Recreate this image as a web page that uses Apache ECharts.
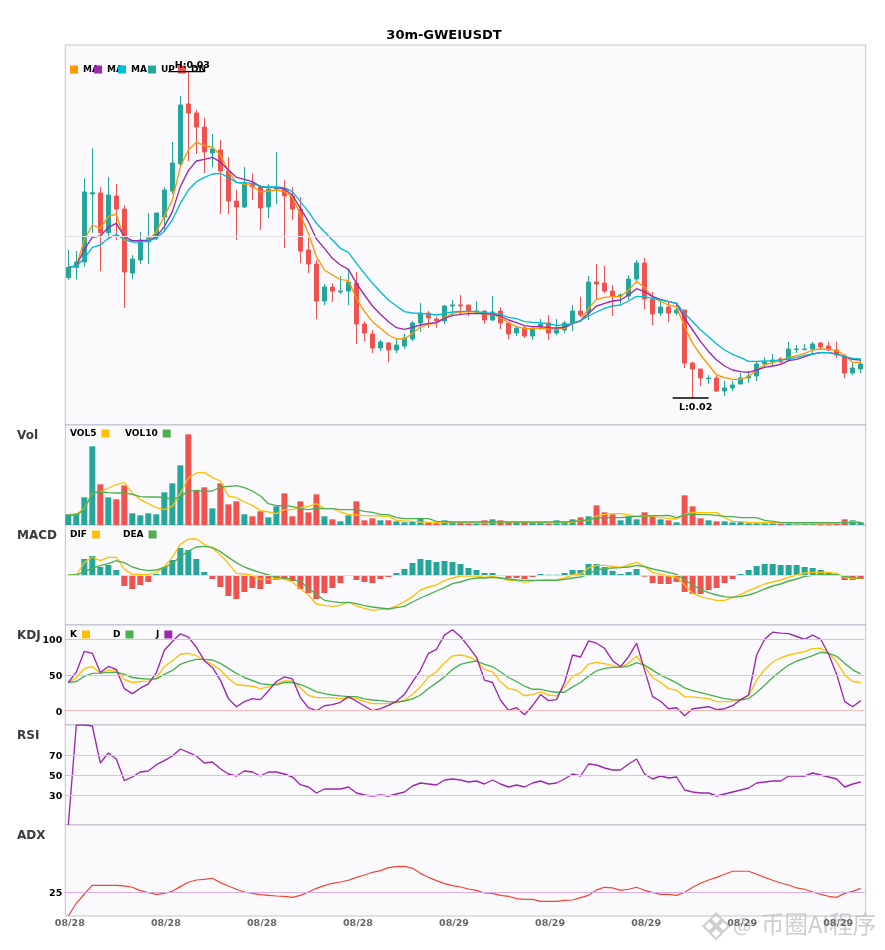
<!DOCTYPE html>
<html><head><meta charset="utf-8">
<style>html,body{margin:0;padding:0;background:#fff}#c{width:885px;height:950px}</style>
<script src="https://cdn.jsdelivr.net/npm/echarts@6/dist/echarts.min.js"></script>
</head><body><div id="c"></div>
<script>
// prices are in units of 0.00001 USDT
const opens=[2377,2408,2424,2628,2631,2512,2622,2583,2391,2430,2484,2496,2559,2637,2718,2898,2871,2829,2751,2760,2697,2607,2589,2659,2649,2589,2643,2643,2622,2583,2460,2418,2307,2349,2334,2337,2361,2238,2208,2166,2181,2160,2172,2193,2241,2271,2253,2247,2292,2295,2295,2274,2277,2250,2277,2241,2211,2226,2202,2229,2241,2211,2220,2241,2277,2271,2364,2361,2337,2322,2322,2373,2421,2313,2271,2289,2271,2280,2121,2103,2074,2076,2037,2046,2058,2076,2082,2118,2124,2133,2130,2161,2161,2163,2181,2172,2160,2142,2091,2103];
const closes=[2408,2424,2634,2632,2512,2625,2583,2394,2433,2490,2496,2571,2640,2721,2895,2871,2829,2754,2763,2697,2607,2589,2659,2649,2586,2643,2646,2622,2583,2457,2418,2307,2349,2337,2337,2364,2238,2211,2166,2184,2160,2175,2196,2241,2271,2256,2247,2292,2295,2292,2277,2277,2250,2274,2241,2208,2226,2202,2223,2238,2211,2220,2241,2277,2265,2364,2358,2337,2322,2325,2373,2421,2313,2268,2289,2271,2280,2121,2103,2076,2076,2037,2046,2055,2076,2082,2118,2124,2130,2124,2163,2163,2163,2178,2169,2160,2145,2091,2106,2118];
const lows=[2370,2372,2410,2512,2397,2495,2490,2286,2373,2418,2418,2490,2515,2628,2712,2727,2748,2691,2709,2568,2568,2490,2586,2610,2520,2556,2598,2466,2550,2421,2391,2253,2295,2304,2328,2295,2178,2187,2151,2157,2124,2151,2163,2187,2214,2226,2226,2238,2262,2265,2262,2268,2238,2247,2223,2193,2202,2196,2190,2220,2190,2205,2211,2217,2259,2250,2310,2330,2262,2295,2310,2367,2283,2235,2262,2244,2265,2106,2016,2052,2058,2034,2022,2037,2058,2061,2067,2109,2112,2120,2127,2151,2160,2145,2160,2157,2136,2076,2085,2091];
const highs=[2460,2457,2675,2765,2649,2679,2658,2595,2445,2514,2571,2571,2649,2784,2922,2995,2880,2856,2808,2790,2739,2640,2709,2690,2655,2658,2754,2670,2649,2619,2496,2430,2358,2361,2382,2400,2394,2247,2220,2190,2184,2196,2208,2247,2301,2277,2259,2295,2310,2325,2295,2307,2277,2322,2289,2241,2232,2232,2229,2253,2265,2253,2247,2295,2319,2382,2418,2412,2355,2330,2385,2430,2436,2334,2304,2304,2298,2280,2124,2103,2085,2082,2067,2067,2091,2097,2127,2139,2148,2139,2184,2175,2178,2184,2184,2184,2184,2148,2124,2133];
const ma5=[2408,2412,2490,2535,2525,2560,2568,2490,2487,2488,2490,2515,2560,2610,2710,2760,2783,2774,2768,2745,2695,2663,2657,2653,2634,2637,2640,2635,2620,2565,2510,2440,2400,2385,2372,2368,2315,2275,2245,2225,2205,2193,2193,2210,2228,2238,2240,2258,2270,2274,2275,2274,2268,2266,2258,2242,2230,2224,2224,2226,2223,2223,2225,2240,2248,2285,2312,2318,2320,2320,2340,2366,2347,2320,2305,2295,2290,2230,2180,2145,2115,2085,2077,2072,2072,2080,2100,2115,2122,2128,2137,2143,2150,2160,2163,2162,2158,2145,2123,2123];
const ma10=[2408,2412,2462,2498,2502,2528,2540,2500,2488,2488,2488,2500,2530,2575,2650,2698,2727,2732,2738,2724,2700,2678,2672,2665,2650,2648,2647,2643,2625,2585,2545,2493,2465,2435,2415,2402,2360,2325,2292,2267,2245,2227,2222,2228,2235,2240,2242,2255,2263,2267,2269,2269,2269,2268,2262,2250,2242,2233,2230,2230,2227,2226,2228,2240,2247,2270,2292,2300,2307,2310,2325,2344,2335,2320,2312,2305,2300,2255,2220,2185,2155,2130,2112,2100,2095,2093,2100,2108,2112,2117,2128,2132,2140,2148,2152,2152,2148,2140,2132,2130];
const ma20=[2408,2412,2435,2468,2475,2495,2507,2492,2484,2484,2487,2495,2517,2550,2600,2640,2665,2678,2688,2690,2678,2663,2662,2660,2650,2649,2649,2647,2635,2605,2575,2540,2515,2490,2465,2453,2420,2390,2360,2335,2310,2292,2275,2271,2270,2268,2265,2270,2274,2276,2276,2275,2272,2270,2267,2258,2254,2245,2243,2242,2238,2234,2235,2240,2248,2262,2274,2285,2292,2295,2307,2321,2320,2315,2310,2305,2300,2270,2245,2220,2200,2178,2160,2147,2137,2126,2126,2127,2128,2130,2133,2138,2144,2148,2152,2152,2147,2140,2135,2133];
const volume=[32,35,83,236,122,83,77,119,35,29,35,32,98,125,179,272,104,113,50,125,62,71,32,26,41,23,56,95,26,71,38,92,26,17,11,29,71,14,20,14,14,11,8,9,18,8,5,14,10,8,5,5,14,17,14,8,10,8,8,8,5,14,10,17,23,26,59,38,32,14,26,17,38,26,17,14,8,89,56,20,14,11,11,8,9,5,5,5,5,4,8,2,4,4,3,3,3,17,14,8];
const vol5=[32,32,49,97,99,111,121,127,96,76,64,52,46,56,94,141,156,158,142,132,87,82,69,59,44,39,34,46,46,52,56,64,49,49,39,32,30,28,28,27,26,14,12,11,9,8,8,7,7,7,6,6,6,7,8,8,8,8,7,7,6,6,7,9,13,14,27,32,34,34,30,26,27,26,22,20,18,32,38,37,37,37,22,11,10,8,7,7,7,6,5,4,4,4,4,4,5,8,9,9];
const vol10=[30,30,46,97,99,97,96,96,92,85,84,84,83,76,86,101,104,101,102,114,116,118,112,102,87,64,58,58,55,50,46,50,49,49,46,46,46,41,38,32,31,22,19,19,19,19,11,10,9,9,9,9,9,9,9,9,9,9,9,9,9,9,9,11,12,16,21,22,22,22,24,26,27,28,28,29,22,30,32,32,31,29,26,25,22,22,22,14,11,8,7,7,7,7,7,7,7,7,7,7];
const macdHist=[0,2,48,57,24,30,15,-33,-42,-30,-21,3,24,45,81,75,48,9,-12,-36,-63,-72,-51,-39,-42,-27,-15,-12,-18,-42,-54,-72,-54,-39,-24,-3,-15,-21,-24,-12,-6,6,18,36,48,45,39,42,39,33,21,15,6,6,-1,-9,-9,-12,-6,3,1,1,6,15,15,33,33,24,12,3,9,18,-5,-24,-27,-27,-21,-51,-57,-57,-45,-39,-24,-12,3,15,27,33,33,30,30,30,24,21,15,6,3,-15,-15,-12];
const dif=[0,0,37,54,43,53,53,17,2,2,2,7,25,53,92,108,108,92,80,60,35,5,3,-1,-13,-13,-11,-13,-20,-42,-60,-87,-91,-94,-91,-81,-93,-100,-106,-103,-102,-93,-80,-65,-45,-36,-30,-17,-9,-3,-3,-3,-7,-4,-9,-16,-16,-22,-18,-15,-15,-15,-9,0,3,21,29,29,26,23,30,38,25,8,2,-3,-7,-30,-55,-65,-71,-76,-76,-67,-58,-47,-37,-27,-21,-15,-7,0,6,8,8,8,5,-7,-10,-10];
const dea=[0,0,10,20,28,34,43,37,24,17,13,15,22,35,55,72,84,86,83,70,53,37,24,15,7,0,-6,-9,-14,-19,-40,-58,-76,-80,-83,-82,-86,-92,-96,-99,-102,-98,-94,-81,-69,-59,-48,-38,-26,-21,-13,-9,-9,-7,-9,-12,-15,-16,-16,-16,-16,-16,-13,-9,-6,3,15,20,21,22,24,29,25,18,13,8,2,-15,-30,-43,-53,-60,-65,-67,-64,-60,-52,-42,-33,-27,-18,-12,-4,-1,2,2,1,-4,-7,-10];
const kLine=[39.5,46.5,58.8,62,52.6,56.9,56.9,43.7,39.5,40.9,41.4,45.6,61.6,70,79,80.4,77,70,64.9,56.9,45,36.7,35.3,34.3,31,33.4,38,41.8,41.4,32,21.6,18.3,18.3,18.3,16.9,17.9,16.9,13.2,9.9,9.9,9.9,11.3,14.6,23,33.4,47.4,54.5,67.2,76.6,78,75.7,70,57.8,54.5,40.4,30.9,28.7,21,22.6,26.3,22,20.7,33.4,48.4,53,65.3,67.7,65.8,63,60.6,66.3,76.6,61.6,46.5,39.5,30.9,28.7,19.7,19.3,17.9,16.9,12.7,12.7,13.2,15.5,21,42.8,57.8,68.2,73.8,78,80.4,82.7,87,87.4,80.4,68.6,49.8,40.9,39.5];
const dLine=[39.5,40.9,48,52.2,52.6,53.6,54,50.8,46.5,45.1,44.2,44.7,50.8,56.4,64.9,69.1,71.9,71.9,71,66.3,59.2,52.2,46.5,42.3,38,36.7,36.2,39.5,39.5,36.7,32,26.3,23.9,22,20.7,19.7,19.7,16.5,15,14.1,12.7,12.2,13.6,16.5,22,31,39,47.4,57.8,64.9,67.7,69.6,64.9,61.6,54.5,46.5,40.9,34.3,30,30,27.3,25.9,25.9,33.4,39.5,48.4,55.9,59.2,60.6,61.1,62.5,67.2,63.9,56.9,49.8,44.7,39,32,28.2,25.4,22.6,19.7,17,15.5,15,17,25.4,35.7,46.5,55.5,63.9,69.6,73.3,77.1,81.8,80.4,76.1,66.3,57.3,51.7];
const jLine=[39.5,54,83.2,80.4,53.6,62,57.8,30.9,24,31.5,37.6,53.1,84.6,96.8,107.6,103,88.8,70,60.6,42.8,16.9,5.6,12.7,16.9,15.5,27.7,40.9,47.4,44.7,18.3,4.2,0,7,8.5,11.8,19.7,13.2,6.6,0,2.8,7.5,13.2,23,40.4,56.9,80.4,86,105.8,113.3,103.9,89.8,74.8,42.8,39.5,14.6,0.5,4.2,-5.6,7,22.6,14.1,15.5,39.5,78,75.2,97.8,94.5,87.4,70,61.6,75.7,94.5,56.9,19.7,13.2,2.8,4.2,-7,2.8,4.2,5.6,1.4,2.8,7,15.5,22,78,100,110,108.6,108,103.9,100,105.8,100,79,50.8,12.7,5.6,14.1];
const rsi=[0,100,100,99,62,72,66,44.3,48,53,54,60.3,64.3,69,76,72.7,69,62,63,56.3,51,49,54,53,49,53,53,51,48,40.3,38,32,36,36,36,38,32,30,29,30,29,31,33,39,42,41,40,45,46,45,43,44,41,45,41,38,40,38,42,44,41,42,46,51,49,61,60,57,55,55,61,66,51,46,49,47,48,35,33,32,32,29,31,33,35,37,42,43,44,44,49,49,49,52,50,48,46,38,41,43];
const adx=[0,13.4,23.2,32.4,32.4,32.4,32.4,31.7,30.3,26.8,24.6,22.9,23.9,26,31,35.6,38,38.7,39.8,35.2,31.7,28.2,25.3,23.9,22.5,21.8,21.1,20.8,19.7,21.8,25.3,29.2,32,34.5,35.9,37.7,40.8,43.3,46.1,47.9,51,52.1,52.4,50.3,45,40.8,37.3,34.1,32,30.6,28.5,27.1,24.3,23.9,21.8,20.8,18.3,17.6,17.6,15.5,15.5,15.5,16.5,16.9,19.4,21.8,27.5,30.3,29.6,27.1,28.2,30.3,27.1,25,22.9,22.9,21.8,25,30.3,34.5,38,40.8,44,47.2,47.2,47.2,44,40.8,37.7,34.8,32.7,29.6,28.2,25.3,22.9,20.8,19.7,23.9,26,29.2];
const dates=[...Array(48).fill('08/28'),...Array(52).fill('08/29')];

[opens,closes,lows,highs,ma5,ma10,ma20,volume,vol5,vol10,macdHist,dif,dea,kLine,dLine,jLine,rsi,adx,dates].forEach((a,n)=>{if(a.length!==100)throw new Error('len '+n+' '+a.length)});

const UP='#26a69a',DN='#ef5350',ORANGE='#ff9800',PURPLE='#9c27b0',CYAN='#00bcd4',YEL='#ffc107',GRN='#4caf50';
const FONT='"DejaVu Sans",sans-serif';
const panels=[[45,380],[425,100],[525,100],[625,100],[725,100],[825,91]];
const yRange=[[1935,3075],[0,300],[-150,150],[-20,120],[0,100],[0,96]];
const yLabels=[null,null,null,[0,50,100],[30,50,70],[25]];

const grid=[],xAxis=[],yAxis=[];
panels.forEach(([top,h],i)=>{
  grid.push({show:false,left:64.3,width:800.4,top,height:h});
  xAxis.push({type:'category',gridIndex:i,data:dates,boundaryGap:true,
    axisLine:{show:false},axisTick:{show:false},splitLine:{show:false},
    axisLabel:i===5?{show:true,interval:11,margin:3,fontSize:9.5,fontWeight:'bold',color:'#666',fontFamily:FONT,padding:[0,0,0,3]}:{show:false}});
  yAxis.push({type:'value',gridIndex:i,min:yRange[i][0],max:yRange[i][1],scale:true,
    axisLine:{show:false},axisTick:{show:false},splitLine:{show:false},
    axisLabel:yLabels[i]?{show:true,customValues:yLabels[i],margin:2,formatter:'{t|{value}}',
      rich:{t:{fontSize:9.5,fontWeight:'bold',color:'#000',fontFamily:FONT,padding:[3,0,0,0]}}}:{show:false}});
});
panels.forEach(([top,h])=>grid.push({show:true,left:65.3,width:800.4,top,height:h,backgroundColor:'#fafafd',borderColor:'rgba(140,140,160,0.5)',borderWidth:1}));

const line=(name,data,color,idx,extra)=>Object.assign({name,type:'line',data,xAxisIndex:idx,yAxisIndex:idx,showSymbol:false,symbol:'none',
  smooth:false,animation:false,silent:true,lineStyle:{color,width:1.35},itemStyle:{color}},extra||{});
const rules=(items)=>({markLine:{silent:true,symbol:'none',animation:false,label:{show:false},
  data:items.map(([v,c])=>({yAxis:v,lineStyle:{color:c,width:1,type:'solid'}}))}});
const candle=(name,color,keep,extra)=>Object.assign({name,type:'candlestick',xAxisIndex:0,yAxisIndex:0,barWidth:5,animation:false,silent:true,
  data:opens.map((o,i)=>keep(o,closes[i])?[o,closes[i],lows[i],highs[i]]:['-','-','-','-']),
  itemStyle:{color,color0:color,borderColor:color,borderColor0:color,borderWidth:1}},extra||{});

const hiIdx=highs.indexOf(Math.max(...highs)),loIdx=lows.indexOf(Math.min(...lows));
const extreme=(prefix,idx,val,offset,pos)=>({coord:[idx,val],value:val,symbol:'rect',symbolSize:[36,1.4],symbolOffset:offset,
  itemStyle:{color:'#000'},label:{show:true,position:pos,formatter:prefix+':'+(val/1e5).toFixed(2),fontSize:9.5,fontWeight:'bold',color:'#000',fontFamily:FONT,
  offset:pos==='top'?[6,5]:[5,-1]}});

const series=[
  candle('UP',UP,(o,c)=>c>o),
  candle('DN',DN,(o,c)=>c<=o,{markPoint:{silent:true,animation:false,data:[extreme('H',hiIdx,highs[hiIdx],[-2,0],'top'),extreme('L',loIdx,lows[loIdx],[-2,0],'bottom')]}}),
  line('MA5',ma5,ORANGE,0,rules([[2500,'#e0e0e4']])),
  line('MA10',ma10,PURPLE,0),
  line('MA20',ma20,CYAN,0),
  {name:'Volume',type:'bar',data:volume,xAxisIndex:1,yAxisIndex:1,barWidth:6,animation:false,silent:true,
   itemStyle:{color:p=>closes[p.dataIndex]>opens[p.dataIndex]?UP:DN}},
  line('VOL5',vol5,YEL,1),
  line('VOL10',vol10,GRN,1),
  {name:'Hist',type:'bar',data:macdHist,xAxisIndex:2,yAxisIndex:2,barWidth:6,animation:false,silent:true,
   itemStyle:{color:p=>p.value>=0?UP:DN}},
  line('DIF',dif,YEL,2,rules([[0,'#dddddd']])),
  line('DEA',dea,GRN,2),
  line('K',kLine,YEL,3,rules([[100,'#a8dcdc'],[50,'#cccccc'],[0,'#ffb8b8']])),
  line('D',dLine,GRN,3),
  line('J',jLine,PURPLE,3),
  line('RSI',rsi,PURPLE,4,rules([[70,'#a8dcdc'],[50,'#cccccc'],[30,'#ffb8b8']])),
  line('ADX',adx,'#f44336',5,Object.assign(rules([[25,'#dcaee4']]),{lineStyle:{color:'#f44336',width:1.2}}))
];

const legendFont={fontSize:9,fontWeight:'bold',color:'#000',fontFamily:FONT};
const leg=(name,color,left,top,align,label,textW)=>({show:true,selectedMode:false,left,top,padding:0,itemWidth:8,itemHeight:8,icon:'rect',align,
  data:[{name,itemStyle:{color,borderWidth:0}}],
  formatter:()=>label,
  textStyle:Object.assign({},legendFont,textW?{width:textW}:{})});
const legend=[
  leg('MA5',ORANGE,70,65,'left','MA'),leg('MA10',PURPLE,94,65,'left','MA'),leg('MA20',CYAN,118,65,'left','MA'),
  leg('UP',UP,148,65,'left','UP'),leg('DN',DN,178,65,'left','DN'),
  leg('VOL5',YEL,70,429,'right','VOL5',26),leg('VOL10',GRN,125,429,'right','VOL10',33),
  leg('DIF',YEL,70,530,'right','DIF',22),leg('DEA',GRN,123,530,'right','DEA',25),
  leg('K',YEL,70,630,'right','K',12),leg('D',GRN,113,630,'right','D',13),leg('J',PURPLE,156,630,'right','J',14)
];

const titleStyle={fontSize:12,fontWeight:'bold',color:'#3a3a42',fontFamily:FONT};
const sub=(text,top)=>({text,left:17,top,padding:0,textStyle:titleStyle});
const title=[
  {text:'30m-GWEIUSDT',left:444,textAlign:'center',top:29,padding:0,textStyle:{fontSize:13,fontWeight:'bold',color:'#000',fontFamily:FONT}},
  sub('Vol',430),sub('MACD',530),sub('KDJ',630),sub('RSI',730),sub('ADX',830)
];

const mark='rgba(190,190,195,0.75)';
const logoCell=(x,y)=>({type:'rect',shape:{x:-4,y:-4,width:8,height:8},rotation:Math.PI/4,x,y,style:{fill:'none',stroke:mark,lineWidth:2}});
const graphic=[
  {type:'group',left:700,top:910,silent:true,children:[logoCell(13.5,7),logoCell(6.5,14),logoCell(20.5,14),logoCell(13.5,21)]},
  {type:'text',left:733,top:914,silent:true,style:{text:'@',fill:mark,font:'20px "Noto Sans CJK SC"'}},
  {type:'text',left:761,top:912,silent:true,style:{text:'币圈AI程序',fill:mark,font:'23.5px "Noto Sans CJK SC"'}}
];

const chart=echarts.init(document.getElementById('c'),null,{renderer:'canvas',width:885,height:950});
chart.setOption({animation:false,backgroundColor:'#fff',title,grid,xAxis,yAxis,legend,series,graphic});
</script></body></html>
